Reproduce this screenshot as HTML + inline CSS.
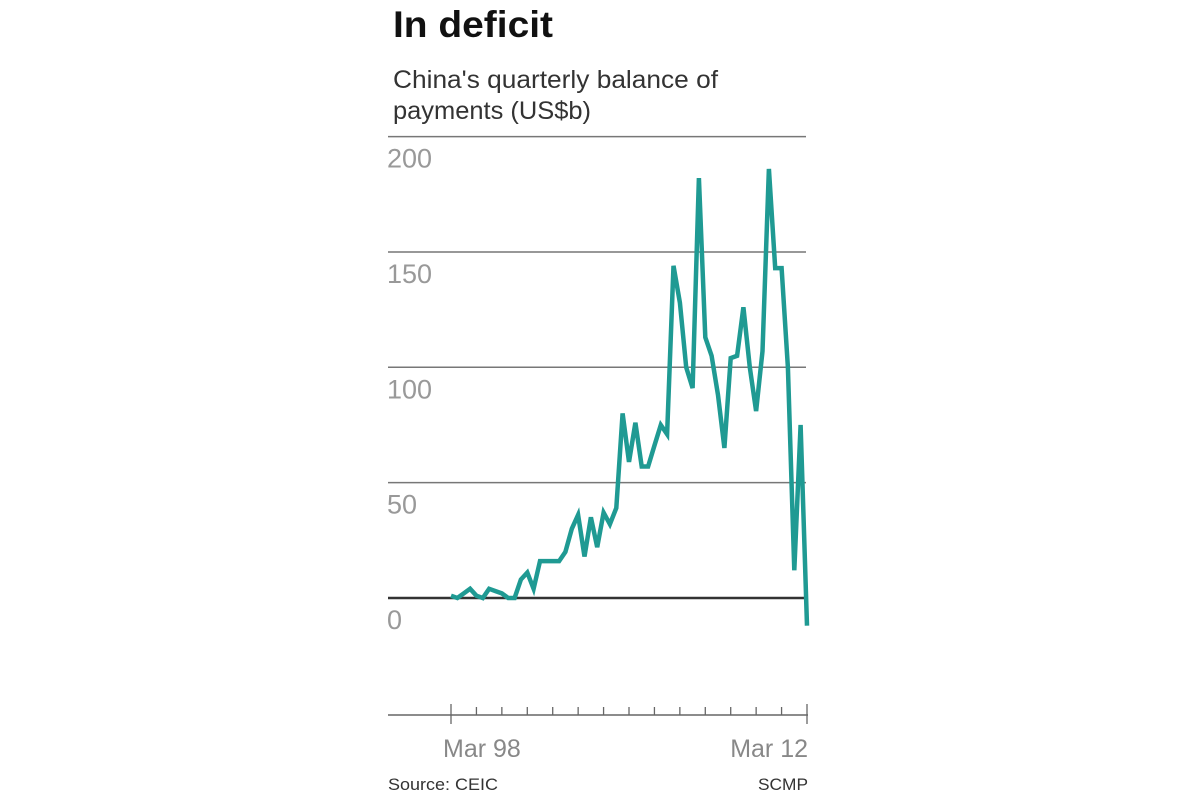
<!DOCTYPE html>
<html><head><meta charset="utf-8"><style>
body{margin:0;background:#fff;}
svg{display:block;font-family:"Liberation Sans",sans-serif;}
</style></head><body>
<svg id="chart" width="1200" height="800" viewBox="0 0 1200 800">
<text x="393" y="37" font-size="37" font-weight="bold" fill="#111" textLength="160" lengthAdjust="spacingAndGlyphs">In deficit</text>
<text x="393" y="88" font-size="25" fill="#333" textLength="325" lengthAdjust="spacingAndGlyphs">China's quarterly balance of</text>
<text x="393" y="119" font-size="25" fill="#333" textLength="198" lengthAdjust="spacingAndGlyphs">payments (US$b)</text>
<g id="grid"></g>
<g id="xaxis"></g>
<path id="line" fill="none" stroke="#1f9a93" stroke-width="4.5" stroke-linejoin="miter"></path>
<text x="388" y="790" font-size="17" fill="#333" textLength="110" lengthAdjust="spacingAndGlyphs">Source: CEIC</text>
<text x="808" y="790" font-size="17" fill="#333" text-anchor="end" textLength="50" lengthAdjust="spacingAndGlyphs">SCMP</text>
</svg>
<script>
const values = [1,0,2,4,1,0,4,3,2,0,0,8,11,4,16,16,16,16,20,30,36,18,35,22,37,32,39,80,59,76,57,57,66,75,71,144,128,100,91,182,113,105,88,65,104,105,126,100,81,107,186,143,143,100,12,75,-12];
const yTicks = [0,50,100,150,200];
const xLabels = ["Mar 98","Mar 12"];
const xLabelIdx = [0,56];
const NS="http://www.w3.org/2000/svg";
const y = v => 598 - v*2.307;
const x = i => 451 + i*(356/56);
const grid=document.getElementById('grid');
yTicks.forEach(t=>{
  const l=document.createElementNS(NS,'line');
  l.setAttribute('x1',388);l.setAttribute('x2',806);
  l.setAttribute('y1',y(t));l.setAttribute('y2',y(t));
  l.setAttribute('stroke',t===0?'#333':'#777');l.setAttribute('stroke-width',t===0?2.5:1.5);
  
  
  grid.appendChild(l);
  const tx=document.createElementNS(NS,'text');
  tx.setAttribute('x',387);tx.setAttribute('y',y(t)+31);
  tx.setAttribute('font-size','27');tx.setAttribute('fill','#999');
  tx.textContent=t;
  
  
  grid.appendChild(tx);
});
const xa=document.getElementById('xaxis');
const al=document.createElementNS(NS,'line');
al.setAttribute('x1',388);al.setAttribute('x2',808);al.setAttribute('y1',715);al.setAttribute('y2',715);
al.setAttribute('stroke','#666');al.setAttribute('stroke-width',1.5);


xa.appendChild(al);
for(let i=0;i<=56;i+=4){
  const t=document.createElementNS(NS,'line');
  const big=(i===0||i===56);
  t.setAttribute('x1',x(i));t.setAttribute('x2',x(i));
  t.setAttribute('y1',big?704:707);t.setAttribute('y2',big?724:715);
  t.setAttribute('stroke','#666');t.setAttribute('stroke-width',1.3);
  
  
  xa.appendChild(t);
}
xLabels.forEach((s,k)=>{
  const tx=document.createElementNS(NS,'text');
  const i=xLabelIdx[k];
  tx.setAttribute('x',k===0?x(i)-8:x(i)+1);tx.setAttribute('y',757);
  tx.setAttribute('font-size','25');tx.setAttribute('fill','#888');
  if(k===1)tx.setAttribute('text-anchor','end');
  tx.textContent=s;
  
  
  xa.appendChild(tx);
});
document.getElementById('line').setAttribute('d',values.map((v,i)=>(i?'L':'M')+x(i).toFixed(1)+','+y(v).toFixed(1)).join(' '));
</script>
</body></html>
